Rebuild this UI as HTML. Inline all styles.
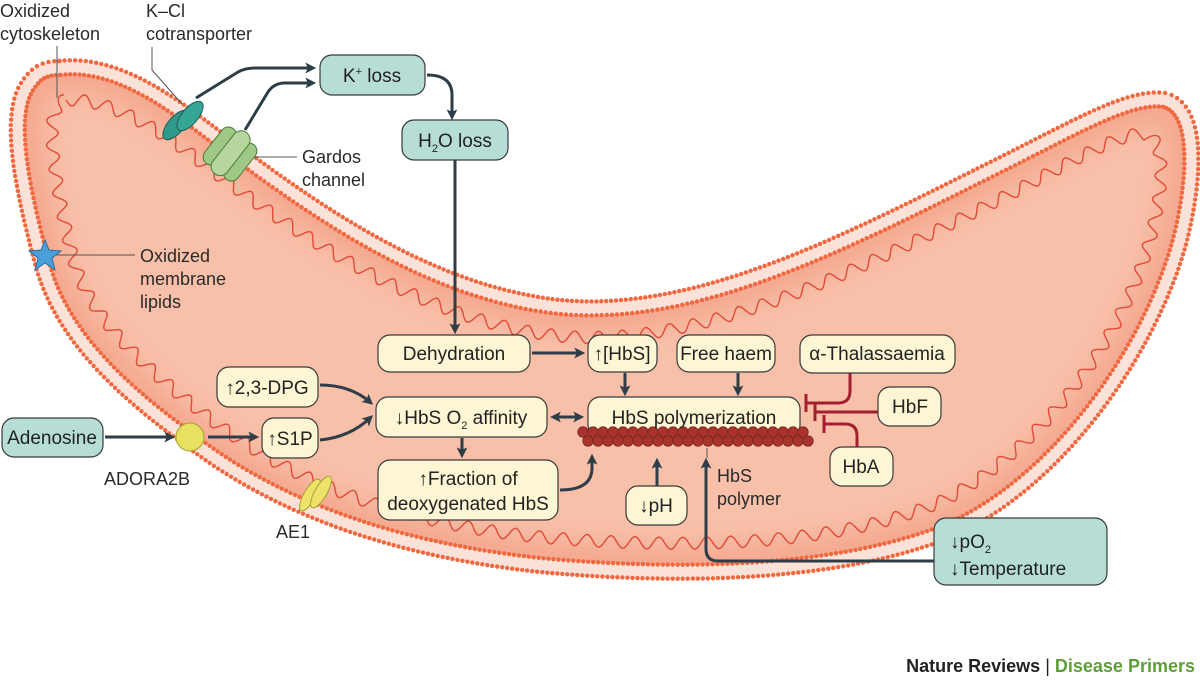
<!DOCTYPE html>
<html><head><meta charset="utf-8">
<style>
html,body{margin:0;padding:0;background:#fff;}
#wrap{position:relative;width:1200px;height:692px;overflow:hidden;font-family:"Liberation Sans",sans-serif;}
svg{position:absolute;left:0;top:0;}
.lbl{font-family:"Liberation Sans",sans-serif;font-size:18px;fill:#2a2a2a;}
.bx{font-family:"Liberation Sans",sans-serif;font-size:19px;fill:#222;}
</style></head><body>
<div id="wrap">
<svg id="s" width="1200" height="692" viewBox="0 0 1200 692" xmlns="http://www.w3.org/2000/svg">
<defs>
<path id="cell" d="M60,68 C110,62 160,95 200,125 C300,200 420,292 560,307 C700,320 850,240 1000,165 C1080,125 1130,95 1165,100 C1200,110 1195,180 1180,240 C1150,350 1060,480 950,530 C840,575 680,578 540,565 C400,550 280,510 190,440 C100,375 55,320 40,255 C20,180 10,120 25,90 C35,72 45,68 60,68 Z"/>
<path id="inner" d="M66,100 C105,98 150,124 188,152 C290,230 420,322 560,336 C700,349 860,270 1010,194 C1080,157 1122,132 1145,134 C1168,140 1163,190 1150,240 C1122,340 1040,452 940,502 C835,547 680,549 540,537 C405,524 295,485 208,417 C125,353 83,305 71,250 C55,185 50,140 53,120 C56,106 60,101 66,100 Z"/>
<clipPath id="cc"><use href="#cell"/></clipPath>
<filter id="bl" x="-10%" y="-10%" width="120%" height="120%"><feGaussianBlur stdDeviation="12"/></filter>
<marker id="ah" markerWidth="4" markerHeight="4" refX="2.2" refY="2" orient="auto" markerUnits="strokeWidth"><path d="M0,0.2 L3.6,2 L0,3.8 L0.8,2 Z" fill="#2d3e48"/></marker>
<marker id="ahs" markerWidth="4" markerHeight="4" refX="1.6" refY="2" orient="auto-start-reverse" markerUnits="strokeWidth"><path d="M0,0.2 L3.6,2 L0,3.8 L0.8,2 Z" fill="#2d3e48"/></marker>
</defs>
<use href="#cell" fill="#f8c0a9"/>
<g clip-path="url(#cc)"><use href="#cell" fill="none" stroke="#f2947a" stroke-width="50" filter="url(#bl)" opacity="0.55"/></g>
<use href="#cell" fill="none" stroke="#fbe2d8" stroke-width="14"/>
<g id="dots"></g>
<g id="wave"></g>

<g stroke="#555" stroke-width="1" fill="none">
<line x1="57" y1="46" x2="57" y2="98"/>
<polyline points="152,47 152,70 182,104"/>
<line x1="252" y1="157" x2="297" y2="157"/>
<line x1="52" y1="255" x2="135" y2="255"/>
<line x1="707" y1="448" x2="707" y2="458"/>
</g>

<g stroke="#1f5c56" stroke-width="1">
<ellipse cx="176" cy="125" rx="8" ry="18" transform="rotate(40 176 125)" fill="#2f9a8c"/>
<ellipse cx="190" cy="116" rx="8" ry="18" transform="rotate(40 190 116)" fill="#35a595"/>
</g>
<g stroke="#4d7a3a" stroke-width="1" fill="#9fc786" transform="rotate(38 230 154)">
<rect x="209" y="132" width="16" height="44" rx="8"/>
<rect x="235" y="132" width="16" height="44" rx="8"/>
<rect x="221" y="127" width="18" height="52" rx="9" fill="#b6d69e"/>
</g>
<polygon points="45,240 49,250 61,251 52,258 55,270 45,263 35,270 38,258 29,251 41,250" fill="#4a9fd8" stroke="#2a6b9c" stroke-width="1"/>
<circle cx="190" cy="437" r="14" fill="#e8e060" stroke="#a8a030" stroke-width="1"/>
<g stroke="#a8a030" stroke-width="1" fill="#eee36a">
<ellipse cx="310" cy="495" rx="6" ry="18" transform="rotate(30 310 495)"/>
<ellipse cx="321" cy="492" rx="6" ry="18" transform="rotate(30 321 492)"/>
</g>

<g stroke="#2d3e48" stroke-width="3" fill="none" marker-end="url(#ah)">
<path d="M196,98 L238,72 Q245,68 256,68 L312,68"/>
<path d="M245,130 L268,92 Q274,83 285,83 L312,83"/>
<path d="M427,75 Q452,75 452,95 L452,116"/>
<path d="M455,160 L455,330"/>
<path d="M532,353 L581,353"/>
<path d="M625,373 L625,392"/>
<path d="M738,373 L738,392"/>
<path d="M320,385 Q350,385 370,402"/>
<path d="M320,440 Q350,437 370,418"/>
<path d="M105,437 L171,437"/>
<path d="M208,437 L255,437"/>
<path d="M462,438 L462,454"/>
<path d="M560,490 Q592,490 592,468 L592,458"/>
<path d="M657,486 L657,462"/>
<path d="M934,561 L718,561 Q706,561 706,549 L706,462"/>
</g>
<path d="M556,417 L580,417" stroke="#2d3e48" stroke-width="3" fill="none" marker-end="url(#ah)" marker-start="url(#ahs)"/>

<g stroke="#a31f2e" stroke-width="3" fill="none">
<path d="M850,373 L850,391 Q850,403 838,403 L806,403"/>
<line x1="806" y1="394" x2="806" y2="412"/>
<path d="M878,412 L815,412"/>
<line x1="815" y1="403" x2="815" y2="421"/>
<path d="M857,448 L857,436 Q857,424 845,424 L824,424"/>
<line x1="824" y1="415" x2="824" y2="433"/>
</g>

<g stroke="#3a3a3a" stroke-width="1.2">
<rect x="320" y="55" width="105" height="40" rx="12" fill="#b6ded6"/>
<rect x="402" y="120" width="106" height="40" rx="12" fill="#b6ded6"/>
<rect x="2" y="418" width="101" height="39" rx="12" fill="#b6ded6"/>
<rect x="934" y="518" width="173" height="67" rx="12" fill="#b6ded6"/>
<g fill="#fcf6d4">
<rect x="378" y="335" width="152" height="37" rx="12"/>
<rect x="588" y="335" width="69" height="37" rx="12"/>
<rect x="677" y="335" width="98" height="37" rx="12"/>
<rect x="800" y="335" width="155" height="38" rx="12"/>
<rect x="878" y="387" width="63" height="39" rx="12"/>
<rect x="830" y="447" width="63" height="39" rx="12"/>
<rect x="217" y="367" width="101" height="40" rx="12"/>
<rect x="376" y="397" width="171" height="40" rx="12"/>
<rect x="588" y="397" width="212" height="40" rx="12"/>
<rect x="262" y="418" width="56" height="40" rx="12"/>
<rect x="378" y="460" width="180" height="60" rx="12"/>
<rect x="626" y="486" width="61" height="39" rx="12"/>
</g>
</g>
<g id="poly"></g>

<g class="bx" text-anchor="middle">
<text x="372" y="82">K<tspan font-size="11" dy="-7">+</tspan><tspan dy="7"> loss</tspan></text>
<text x="455" y="147">H<tspan font-size="11" dy="5">2</tspan><tspan dy="-5">O loss</tspan></text>
<text x="52" y="444">Adenosine</text>
<text x="454" y="360">Dehydration</text>
<text x="622" y="360">↑[HbS]</text>
<text x="726" y="360">Free haem</text>
<text x="877" y="360">α-Thalassaemia</text>
<text x="910" y="413">HbF</text>
<text x="861" y="473">HbA</text>
<text x="267" y="394">↑2,3-DPG</text>
<text x="461" y="424">↓HbS O<tspan font-size="11" dy="5">2</tspan><tspan dy="-5"> affinity</tspan></text>
<text x="694" y="424">HbS polymerization</text>
<text x="290" y="445">↑S1P</text>
<text x="468" y="485">↑Fraction of</text>
<text x="468" y="510">deoxygenated HbS</text>
<text x="656" y="512">↓pH</text>
</g>
<g class="bx" text-anchor="start">
<text x="950" y="548">↓pO<tspan font-size="11" dy="5">2</tspan></text>
<text x="950" y="575">↓Temperature</text>
</g>

<g class="lbl">
<text x="0" y="17">Oxidized</text><text x="0" y="40">cytoskeleton</text>
<text x="146" y="17">K–Cl</text><text x="146" y="40">cotransporter</text>
<text x="302" y="163">Gardos</text><text x="302" y="186">channel</text>
<text x="140" y="262">Oxidized</text><text x="140" y="285">membrane</text><text x="140" y="308">lipids</text>
<text x="104" y="485">ADORA2B</text>
<text x="276" y="538">AE1</text>
<text x="717" y="482">HbS</text><text x="717" y="505">polymer</text>
</g>
<text x="1195" y="672" text-anchor="end" font-family="Liberation Sans,sans-serif" font-size="18" font-weight="bold" fill="#222">Nature Reviews <tspan font-weight="normal">|</tspan> <tspan fill="#5e9e38">Disease Primers</tspan></text>
</svg>
</div>
<script>
(function(){
function norm(p,s,L){var a=p.getPointAtLength(Math.max(0,s-2)),b=p.getPointAtLength(Math.min(L,s+2));var dx=b.x-a.x,dy=b.y-a.y,m=Math.hypot(dx,dy)||1;return [-dy/m,dx/m];}
var cell=document.getElementById('cell'),L=cell.getTotalLength();
var g=document.getElementById('dots'),h='';
for(var s=0;s<L;s+=5){var p=cell.getPointAtLength(s),n=norm(cell,s,L);
h+='<circle cx="'+(p.x-n[0]*7).toFixed(1)+'" cy="'+(p.y-n[1]*7).toFixed(1)+'" r="2.2" fill="#ef6840"/>';
h+='<circle cx="'+(p.x+n[0]*7).toFixed(1)+'" cy="'+(p.y+n[1]*7).toFixed(1)+'" r="2.2" fill="#ef6840"/>';}
g.innerHTML=h;
var inn=document.getElementById('inner'),L2=inn.getTotalLength(),pts=[];
for(var s=0;s<L2;s+=1){var p=inn.getPointAtLength(s),n=norm(inn,s,L2),o=6*Math.sin(2*Math.PI*s/24);pts.push((p.x+n[0]*o).toFixed(1)+','+(p.y+n[1]*o).toFixed(1));}
document.getElementById('wave').innerHTML='<polyline points="'+pts.join(' ')+'" fill="none" stroke="#e24a36" stroke-width="1.4" stroke-linejoin="round"/>';
var q='';
for(var i=0;i<23;i++){var x=583+i*10;q+='<circle cx="'+x+'" cy="432" r="5.3" fill="#a8322c" stroke="#6e1c18" stroke-width="0.6"/>';}
for(var i=0;i<23;i++){var x=588+i*10;q+='<circle cx="'+x+'" cy="441" r="5.3" fill="#a8322c" stroke="#6e1c18" stroke-width="0.6"/>';}
document.getElementById('poly').innerHTML=q;
})();
</script>
</body></html>
